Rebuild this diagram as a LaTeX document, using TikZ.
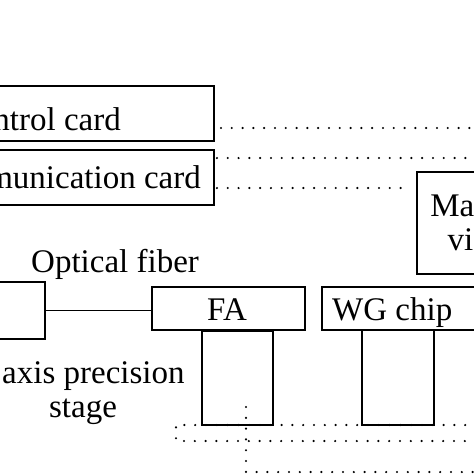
\documentclass[tikz,border=0pt]{standalone}
\usepackage{fontspec}
\setmainfont{Liberation Serif}
\begin{document}
\begin{tikzpicture}[x=1pt,y=-1pt,
  box/.style={draw=black,line width=1.9pt,inner sep=0pt},
  lbl/.style={inner sep=0pt,font=\fontsize{33}{33}\selectfont},
  dotline/.style={line width=2.4pt,line cap=round,dash pattern=on 0pt off 10.8pt}]
\useasboundingbox (0,0) rectangle (474,474);
\clip (0,0) rectangle (474,474);
% boxes
\node[box,minimum width=364pt,minimum height=55pt] (ctrl) at (32,113.5) {};
\node[box,minimum width=364pt,minimum height=55pt] (comm) at (32,177.5) {};
\node[box,minimum width=200pt,minimum height=102pt] (mv) at (517,223) {};
\node[box,minimum width=100pt,minimum height=57pt] (src) at (-5,310.5) {};
\node[box,minimum width=153pt,minimum height=43pt] (fa) at (228.5,308.5) {};
\node[box,minimum width=200pt,minimum height=43pt] (wg) at (422,308.5) {};
\node[box,minimum width=71pt,minimum height=94pt] (stfa) at (237.5,378) {};
\node[box,minimum width=72pt,minimum height=95pt] (stwg) at (398,377.5) {};
% texts
\node[lbl,anchor=base east] (tctrl) at (121,130) {Control card};
\node[lbl,anchor=base east] (tcomm) at (201,188) {Communication card};
\node[lbl,anchor=base] (tmv1) at (488,216) {Machine};
\node[lbl,anchor=base] (tmv2) at (488,250) {vision};
\node[lbl,anchor=base west] (tof) at (31,272) {Optical fiber};
\node[lbl,anchor=base] (tfa) at (227,320) {FA};
\node[lbl,anchor=base west] (twg) at (332,320) {WG chip};
\node[lbl,anchor=base west] (tst1) at (2,383) {axis precision};
\node[lbl,anchor=base] (tst2) at (83,417) {stage};
% fiber
\draw[line width=1.9pt] (src.east) -- (src.east -| fa.west);
% coordinates
\coordinate (e1) at (476,128);
\coordinate (e2) at (476,158);
\coordinate (e3) at (300,188);
\coordinate (b1) at (176,425);
\coordinate (b2) at (176,441);
\coordinate (e4) at (476,425);
\coordinate (e5) at (476,441);
\coordinate (v1) at (246,407);
\coordinate (v2) at (246,472);
\coordinate (e6) at (476,472);
% dotted connectors
\draw[dotline] ([xshift=6pt]ctrl.east |- e1) -- (e1);
\draw[dotline] ([xshift=2pt]comm.east |- e2) -- (e2);
\draw[dotline] ([xshift=2pt]comm.east |- e3) -- ([xshift=-10pt]mv.west |- e3);
\draw[dotline] (e4) -- (b1) -- (b2) -- (e5);
\draw[dotline] (v1) -- (v2) -- (e6);
\end{tikzpicture}
\end{document}
